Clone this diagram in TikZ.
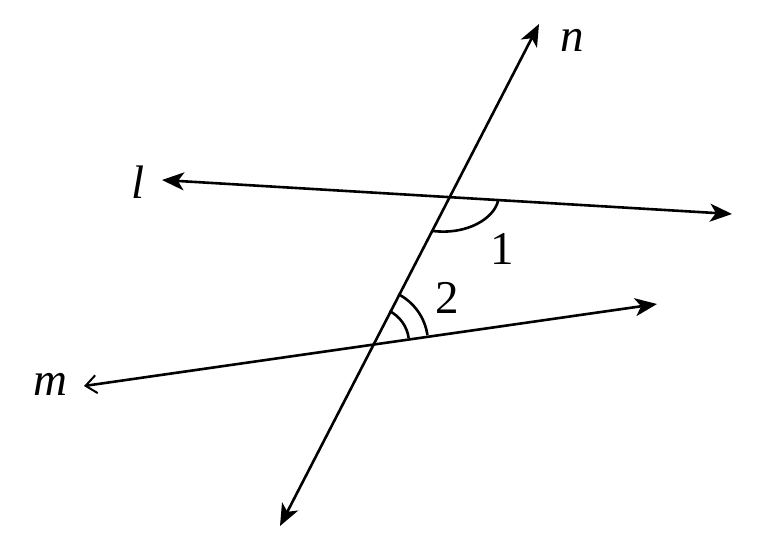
\documentclass[tikz,border=0pt]{standalone}
\usepackage{fontspec}
\setmainfont{Liberation Serif}
\usetikzlibrary{arrows.meta}
\begin{document}
\begin{tikzpicture}[x=1pt,y=-1pt,
  ln/.style={line width=2.6pt},
  st/.tip={Stealth[length=22pt,width=18pt,inset=6pt]},
  lab/.style={font=\fontsize{47}{54}\selectfont, inner sep=0pt}]
\useasboundingbox (0,0) rectangle (768,557);
% endpoints
\coordinate (nA) at (280,526);
\coordinate (nB) at (539,24);
\coordinate (lA) at (162,180);
\coordinate (lB) at (732,214);
\coordinate (mA) at (84,386);
\coordinate (mB) at (657,304);
\coordinate (Q) at (373,343);
% lines
\draw[ln,st-st] (nA) -- (nB);
\draw[ln,st-st] (lA) -- (lB);
\draw[ln,{Straight Barb[length=11pt,width=18pt,line width=2pt]}-st] (mA) -- (mB);
% angle 1
\coordinate (a1s) at (433,231);
\coordinate (a1e) at (498,201);
\draw[ln] (a1s) .. controls (468,235) and (494,218) .. (a1e);
% angle 2
\draw[ln] (Q) ++(-8.1:55) arc[start angle=-8.1, end angle=-62.7, radius=55];
\draw[ln] (Q) ++(-8.1:36) arc[start angle=-8.1, end angle=-62.7, radius=36];
% labels
\node[lab] (ln) at (572,40) {\textit{n}};
\node[lab] (ll) at (138,182) {\textit{l}};
\node[lab] (lm) at (50,384) {\textit{m}};
\node[lab] (l1) at (502,249) {1};
\node[lab] (l2) at (447,298) {2};
\end{tikzpicture}
\end{document}
